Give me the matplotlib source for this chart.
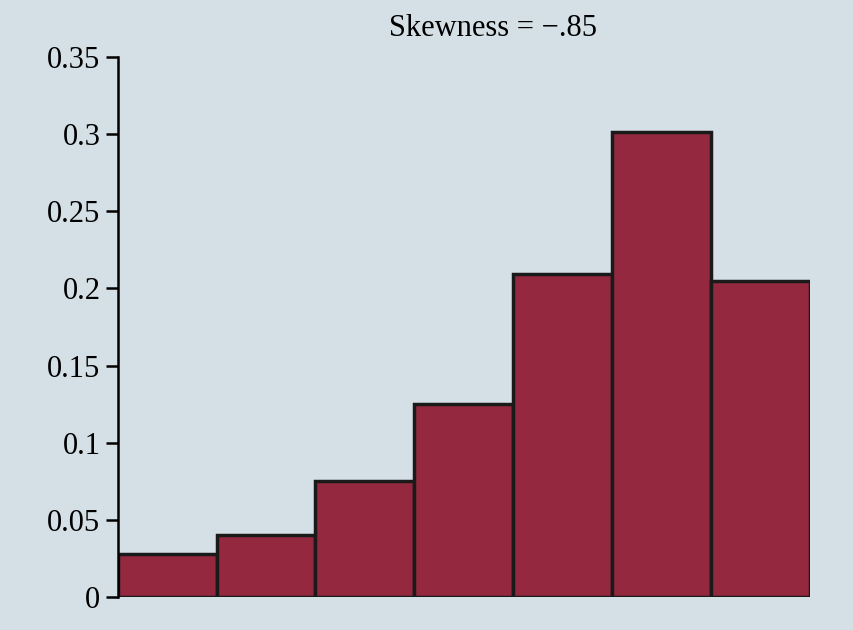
import matplotlib.pyplot as plt

# Histogram values
bins = [1, 2, 3, 4, 5, 6, 7]
heights = [0.028, 0.040, 0.075, 0.125, 0.209, 0.301, 0.205]
yticks = [0, 0.05, 0.1, 0.15, 0.2, 0.25, 0.3, 0.35]
ylabels = ["0", "0.05", "0.1", "0.15", "0.2", "0.25", "0.3", "0.35"]

plt.rcParams["font.family"] = ["Liberation Serif", "DejaVu Serif"]
bg = "#d5e0e6"

fig = plt.figure(figsize=(8.54, 6.3), dpi=100, facecolor=bg)
ax = fig.add_axes([0.138, 0.052, 0.81, 0.858], facecolor=bg)

ax.bar(bins, heights, width=1.0, color="#93283f", edgecolor="#1a1a1a", linewidth=2.5)
ax.set_xlim(0.5, 7.5)
ax.set_ylim(0, 0.35)
ax.set_yticks(yticks)
ax.set_yticklabels(ylabels, fontsize=22)
ax.set_xticks([])
ax.tick_params(axis="y", direction="out", length=9, width=1.8)
for s in ["top", "right", "bottom"]:
    ax.spines[s].set_visible(False)
ax.spines["left"].set_linewidth(1.8)
ax.axhline(0, color="#1a1a1a", linewidth=2)

fig.text(0.577, 0.955, "Skewness = \u2212.85", ha="center", va="center", fontsize=22)

fig.savefig("out.png", dpi=100, facecolor=bg)
